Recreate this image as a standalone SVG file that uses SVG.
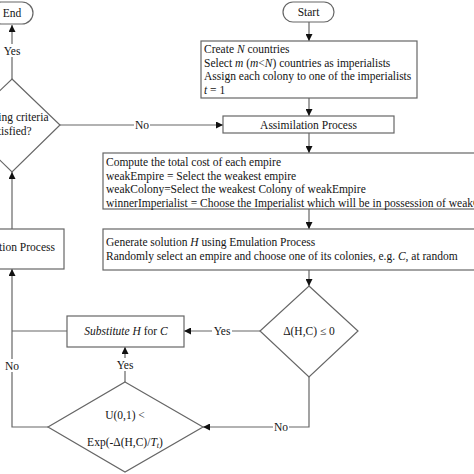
<svg xmlns="http://www.w3.org/2000/svg" width="474" height="474" viewBox="0 0 474 474">
<defs>
<marker id="ah" viewBox="0 0 10 10" refX="10" refY="5" markerWidth="7" markerHeight="7" markerUnits="userSpaceOnUse" orient="auto">
<path d="M0,0 L10,5 L0,10 z" fill="#111"/>
</marker>
<style>
.s{fill:#fff;stroke:#666;stroke-width:1.2}
.c{fill:none;stroke:#666;stroke-width:1.2}
.a{marker-end:url(#ah)}
text{font-family:"Liberation Serif","Times New Roman",serif;font-size:11.5px;fill:#141414}
.m{text-anchor:middle}
.i{font-style:italic}
.bg{fill:#fff}
</style>
</defs>
<rect width="474" height="474" fill="#fff"/>
<g id="connectors">
<path class="c a" d="M12,79 V25"/>
<path class="c a" d="M60,125 H223"/>
<path class="c a" d="M309,22 V41"/>
<path class="c a" d="M309,98 V116"/>
<path class="c a" d="M309,133 V153"/>
<path class="c a" d="M309,209 V229"/>
<path class="c a" d="M309,270 V286"/>
<path class="c a" d="M260,331 H184"/>
<path class="c" d="M67,331 H12"/>
<path class="c a" d="M125,382 V347"/>
<path class="c a" d="M309,377 V427 H203"/>
<path class="c a" d="M48,427 H12 V269"/>
<path class="c a" d="M12,229 V172"/>
<rect class="bg" x="3" y="44" width="19" height="13"/>
<text class="m" x="12" y="55">Yes</text>
<rect class="bg" x="134" y="119" width="16" height="12"/>
<text class="m" x="142" y="129">No</text>
<rect class="bg" x="212" y="325" width="20" height="12"/>
<text class="m" x="222" y="335">Yes</text>
<rect class="bg" x="115" y="358" width="20" height="13"/>
<text class="m" x="125" y="369">Yes</text>
<rect class="bg" x="273" y="421" width="16" height="12"/>
<text class="m" x="281" y="431">No</text>
<rect class="bg" x="4" y="359" width="16" height="13"/>
<text class="m" x="12" y="370">No</text>
</g>
<g id="end">
<rect class="s" x="-10" y="2" width="43" height="22" rx="11"/>
<text class="m" x="12" y="17">End</text>
</g>
<g id="start">
<rect class="s" x="283" y="2" width="51" height="20" rx="10"/>
<text class="m" x="308.5" y="16">Start</text>
</g>
<g id="stop-criteria">
<path class="s" d="M12,79 L60,125 L12,172 L-36,125 Z"/>
<text class="m" x="10" y="121">Stopping criteria</text>
<text class="m" x="10" y="134.5">satisfied?</text>
</g>
<g id="init">
<rect class="s" x="201" y="41" width="216" height="57"/>
<text x="204" y="53">Create <tspan class="i">N</tspan> countries</text>
<text x="204" y="66.5">Select <tspan class="i">m</tspan> (<tspan class="i">m</tspan>&lt;<tspan class="i">N</tspan>) countries as imperialists</text>
<text x="204" y="80">Assign each colony to one of the imperialists</text>
<text x="204" y="93.5"><tspan class="i">t</tspan> = 1</text>
</g>
<g id="assimilation">
<rect class="s" x="223" y="116" width="171" height="17"/>
<text class="m" x="308.5" y="129">Assimilation Process</text>
</g>
<g id="compute">
<rect class="s" x="103" y="153" width="390" height="56"/>
<text x="106" y="166">Compute the total cost of each empire</text>
<text x="106" y="179.5">weakEmpire = Select the weakest empire</text>
<text x="106" y="193">weakColony=Select the weakest Colony of weakEmpire</text>
<text x="106" y="206.5">winnerImperialist = Choose the Imperialist which will be in possession of weakColony</text>
</g>
<g id="generate">
<rect class="s" x="103" y="229" width="390" height="41"/>
<text x="106" y="246">Generate solution <tspan class="i">H</tspan> using Emulation Process</text>
<text x="106" y="260">Randomly select an empire and choose one of its colonies, e.g. <tspan class="i">C</tspan>,  at random</text>
</g>
<g id="delta">
<path class="s" d="M309,286 L358,331 L309,377 L260,331 Z"/>
<text class="m" x="309" y="335">Δ(H,C) ≤ 0</text>
</g>
<g id="substitute">
<rect class="s" x="67" y="316" width="117" height="31"/>
<text class="m" x="126" y="335"><tspan class="i">Substitute H</tspan> for <tspan class="i">C</tspan></text>
</g>
<g id="accept">
<path class="s" d="M125,382 L203,427 L125,472 L48,427 Z"/>
<text class="m" x="125" y="419">U(0,1) &lt;</text>
<text class="m" x="125" y="446">Exp(-Δ(H,C)/<tspan class="i">T</tspan><tspan class="i" font-size="8" dy="2">t</tspan><tspan dy="-2">)</tspan></text>
</g>
<g id="emulation">
<rect class="s" x="-40" y="229" width="104" height="40"/>
<text class="m" x="12" y="251">Emulation Process</text>
</g>
</svg>
